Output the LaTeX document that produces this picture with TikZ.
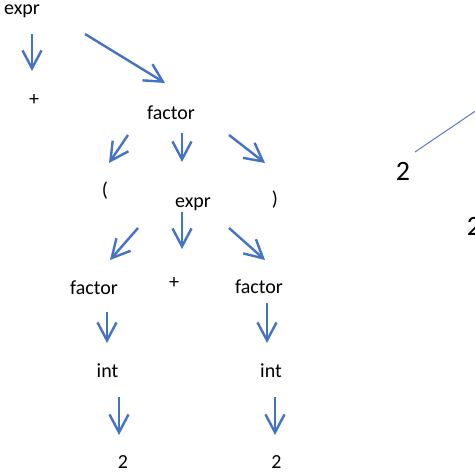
\documentclass[tikz,border=0pt]{standalone}
\usepackage{fontspec}
\setmainfont{Carlito}
\usepackage{xcolor}
\usetikzlibrary{arrows.meta, positioning, calc}
\definecolor{arrowblue}{HTML}{4472C4}
\definecolor{lineblue}{HTML}{5A7BBF}
\tikzstyle{sym} = [inner sep=0pt, font=\fontsize{10}{12}\selectfont, text=black]
\tikzstyle{bigsym} = [inner sep=0pt, font=\fontsize{14}{17}\selectfont, text=black]
\tikzstyle{arrow} = [draw=arrowblue, line width=1.2pt, -{Straight Barb[length=9pt,width=9.5pt]}]
\tikzstyle{thinline} = [draw=lineblue, line width=0.5pt]

\begin{document}
\begin{tikzpicture}[x=0.5pt, y=-0.5pt]
\useasboundingbox (0,0) rectangle (474,474);
\node (expr) [sym] at (22,11.5) {expr};
\node (plus) [sym] at (34,100) {+};
\node (factor) [sym] at (171,113) {factor};
\node (lpar) [sym] at (105,191) {(};
\node (inexpr) [sym] at (193,204) {expr};
\node (rpar) [sym] at (275,200) {)};
\node (lfactor) [sym] at (94,287.5) {factor};
\node (inplus) [sym] at (174,283) {+};
\node (rfactor) [sym] at (259,286.5) {factor};
\node (lint) [sym] at (107.5,371) {int};
\node (rint) [sym] at (271,371) {int};
\node (ltwo) [sym] at (123,462.5) {2};
\node (rtwo) [sym] at (276.5,462.5) {2};
\node (bigtwo) [bigsym] at (403,171) {2};
\node (edgetwo) [bigsym] at (474,226) {2};
\coordinate (offpage) at (530,74);

\draw [arrow] ($(expr)+(10,22.5)$) -- ($(plus)+(-2,-29)$);
\draw [arrow] ($(expr)+(63,22.5)$) -- ($(factor)+(-6,-30)$);
\draw [arrow] ($(factor)+(-43,22)$) -- ($(lpar)+(4,-28)$);
\draw [arrow] ($(factor)+(11,20)$) -- ($(inexpr)+(-11,-42)$);
\draw [arrow] ($(factor)+(58,22)$) -- ($(rpar)+(-10,-37)$);
\draw [arrow] ($(inexpr)+(-55,24)$) -- ($(lfactor)+(16,-27.5)$);
\draw [arrow] ($(inexpr)+(-11,8)$) -- ($(inplus)+(8,-34)$);
\draw [arrow] ($(inexpr)+(36,24)$) -- ($(rfactor)+(6,-26.5)$);
\draw [arrow] ($(lfactor)+(13,24.5)$) -- ($(lint)+(-0.5,-28)$);
\draw [arrow] ($(rfactor)+(8,16.5)$) -- ($(rint)+(-4,-28)$);
\draw [arrow] ($(lint)+(11.5,26)$) -- ($(ltwo)+(-4,-27.5)$);
\draw [arrow] ($(rint)+(4,26)$) -- ($(rtwo)+(-1.5,-27.5)$);
\draw [thinline] (offpage) -- ($(bigtwo)+(12,-19)$);
\end{tikzpicture}
\end{document}
